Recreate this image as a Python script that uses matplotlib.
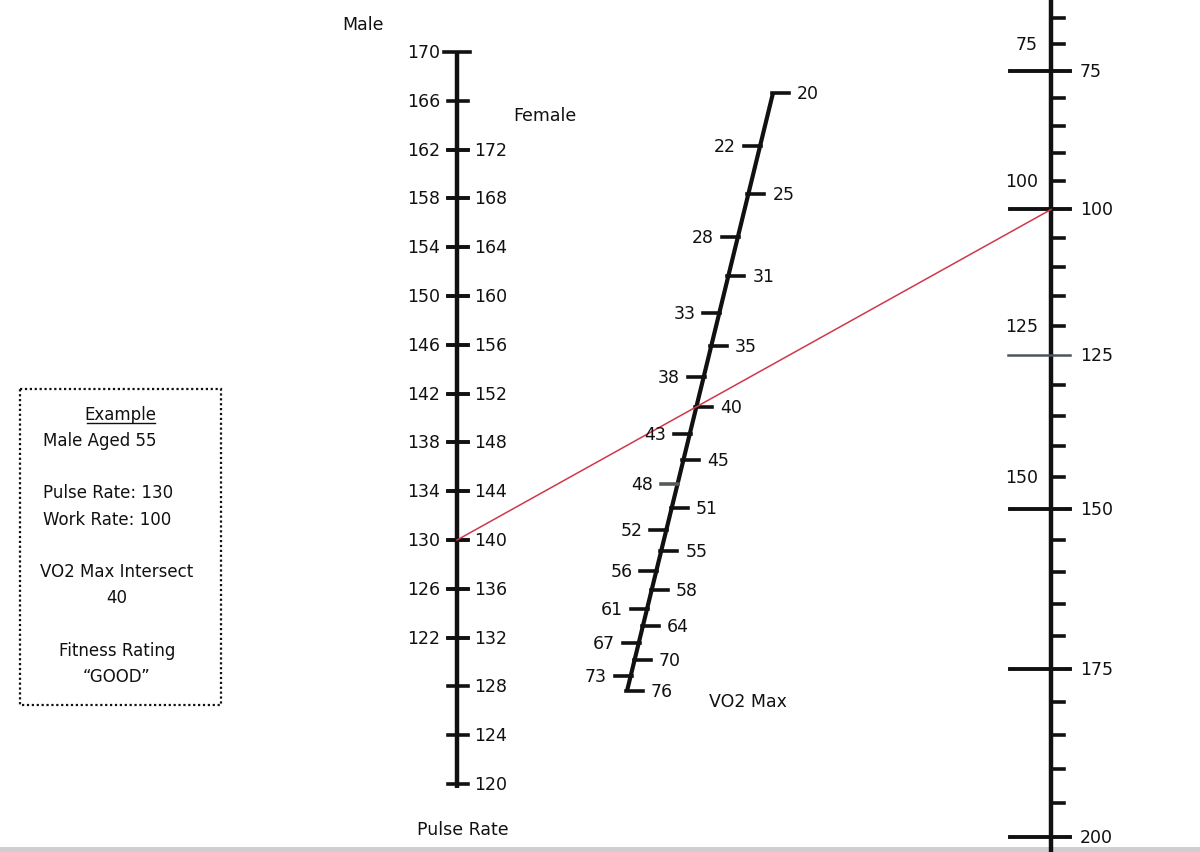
import numpy as np
import matplotlib
matplotlib.use('Agg')
import matplotlib.pyplot as plt
from matplotlib.patches import Rectangle

# Data
male_pulse = [170, 166, 162, 158, 154, 150, 146, 142, 138, 134, 130, 126, 122]
female_pulse = [172, 168, 164, 160, 156, 152, 148, 144, 140, 136, 132, 128, 124, 120]
female_offset = 10  # female scale = male scale + 10 bpm

vo2_labels = [20, 22, 25, 28, 31, 33, 35, 38, 40, 43, 45, 48, 51, 52,
              55, 56, 58, 61, 64, 67, 70, 73, 76]
# printed VO2 ticks sit on the classic Astrand uptake grid (L/min), log spaced
vo2_uptake = [1.6, 1.8, 2.0, 2.2, 2.4, 2.6, 2.8, 3.0, 3.2, 3.4, 3.6, 3.8,
              4.0, 4.2, 4.4, 4.6, 4.8, 5.0, 5.2, 5.4, 5.6, 5.8, 6.0]

work_ticks = list(range(60, 205, 5))
work_major = [75, 100, 125, 150, 175, 200]
work_left_labels = [75, 100, 125, 150]   # second scale, one tick above

example_pulse = 130
example_work = 100

box_lines = ['Male Aged 55', '', 'Pulse Rate: 130', 'Work Rate: 100', '',
             'VO2 Max Intersect', '40', '', 'Fitness Rating', '\u201cGOOD\u201d']

# Scale geometry (figure pixels)
PX, P_TOP, P_PX_PER_BPM = 457, 53, 12.2
V_TOP, V_BOT = (773, 94), (627, 692)
WX, W_Y75, W_SPAN, W_A = 1051, 72, 766, 0.88


def pulse_y(male_val):
    return P_TOP + (170 - male_val) * P_PX_PER_BPM


def vo2_xy(u):
    s = np.log(u / vo2_uptake[0]) / np.log(vo2_uptake[-1] / vo2_uptake[0])
    return V_TOP[0] + (V_BOT[0] - V_TOP[0]) * s, V_TOP[1] + (V_BOT[1] - V_TOP[1]) * s


def work_y(w):
    d = (w - 75) / 125
    return W_Y75 + W_SPAN * (W_A * d + (1 - W_A) * d ** 2)


fig = plt.figure(figsize=(12, 8.53), dpi=100)
ax = fig.add_axes([0, 0, 1, 1])
ax.set_xlim(0, 1200)
ax.set_ylim(853, 0)
ax.axis('off')

fs = 12.5
ink = '#111111'

# Pulse rate scale
ax.plot([PX, PX], [pulse_y(170), pulse_y(120 - female_offset) + 4], color=ink, lw=3.2,
        solid_capstyle='butt')
ax.plot([444, 470], [pulse_y(170)] * 2, color=ink, lw=2.6)
for m in male_pulse[1:]:
    ax.plot([448, 468], [pulse_y(m)] * 2, color=ink, lw=2.6)
for f in female_pulse:
    ax.plot([448, 468], [pulse_y(f - female_offset)] * 2, color=ink, lw=2.6)
for m in male_pulse:
    ax.text(440, pulse_y(m), str(m), ha='right', va='center', fontsize=fs, color=ink)
for f in female_pulse:
    ax.text(474, pulse_y(f - female_offset), str(f), ha='left', va='center',
            fontsize=fs, color=ink)
ax.text(342, 25, 'Male', ha='left', va='center', fontsize=fs, color=ink)
ax.text(513, 116, 'Female', ha='left', va='center', fontsize=fs, color=ink)
ax.text(463, 830, 'Pulse Rate', ha='center', va='center', fontsize=fs, color=ink)

# VO2 max scale
x0, y0 = vo2_xy(vo2_uptake[0])
x1, y1 = vo2_xy(vo2_uptake[-1])
ax.plot([x0, x1], [y0, y1], color=ink, lw=3, solid_capstyle='butt')
for i, (lab, u) in enumerate(zip(vo2_labels, vo2_uptake)):
    x, y = vo2_xy(u)
    col = '#555b55' if lab == 48 else ink
    if i % 2 == 0:
        ax.plot([x - 1, x + 16], [y, y], color=col, lw=2.6)
        ax.text(x + 24, y, str(lab), ha='left', va='center', fontsize=fs, color=ink)
    else:
        ax.plot([x - 16, x + 1], [y, y], color=col, lw=2.6)
        ax.text(x - 24, y, str(lab), ha='right', va='center', fontsize=fs, color=ink)
ax.text(748, 702, 'VO2 Max', ha='center', va='center', fontsize=fs, color=ink)

# Work rate scale
ax.plot([WX, WX], [0, 853], color=ink, lw=3.2)
for w in work_ticks:
    if w == 125:
        ax.plot([1008, 1070], [work_y(w)] * 2, color='#4a5560', lw=1.8)
    elif w in work_major:
        ax.plot([1010, 1070], [work_y(w)] * 2, color=ink, lw=2.8)
    else:
        ax.plot([WX, 1064], [work_y(w)] * 2, color=ink, lw=2.6)
for w in work_major:
    ax.text(1080, work_y(w), str(w), ha='left', va='center', fontsize=fs, color=ink)
for w in work_left_labels:
    ax.text(1038, work_y(w - 5), str(w), ha='right', va='center', fontsize=fs, color=ink)

# Example reading
ax.plot([PX, WX], [pulse_y(example_pulse), work_y(example_work)], color='#d0384a', lw=1.1)

# Example box
ax.add_patch(Rectangle((20, 390), 201, 316, fill=False, ec=ink, lw=1.6, ls=(0, (1, 1.2))))
ax.text(120, 415, 'Example', ha='center', va='center', fontsize=12, color=ink)
ax.plot([87, 155], [424, 424], color=ink, lw=1)
y = 441
for line in box_lines:
    if line:
        if line.startswith(('Male', 'Pulse', 'Work')):
            ax.text(43, y, line, ha='left', va='center', fontsize=12, color=ink)
        else:
            ax.text(117, y, line, ha='center', va='center', fontsize=12, color=ink)
    y += 26.2

# scanner edge at the bottom
ax.axhspan(848, 853, color='#cfcfcf', lw=0)

fig.savefig('out.png', dpi=100)
